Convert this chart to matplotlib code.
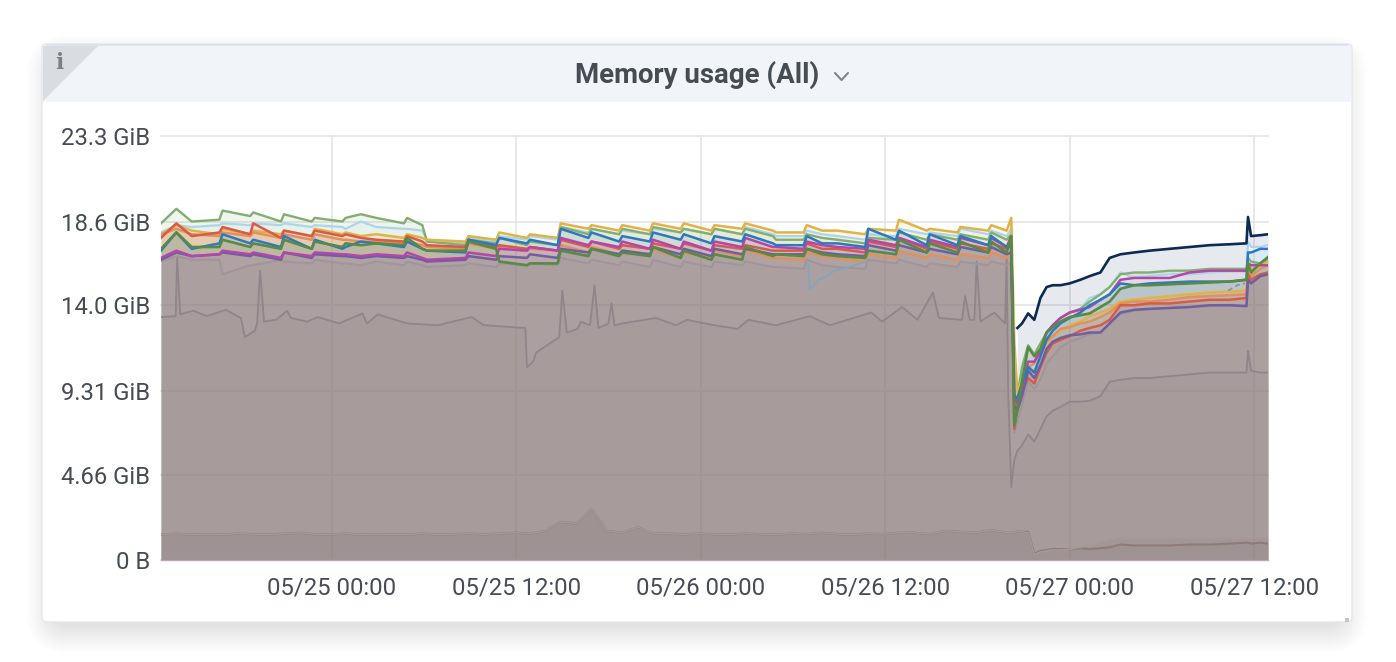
import matplotlib
matplotlib.use("Agg")
import matplotlib.pyplot as plt
import matplotlib.dates as mdates
from matplotlib.patches import FancyBboxPatch, Polygon, Rectangle
import numpy as np
import pandas as pd

# ---------- data (GiB, hours after the first sample) ----------
start_time = pd.Timestamp("2020-05-24 12:54")
hours_pre = [0, 1, 2, 3.8, 4, 5.8, 6, 7.8, 8, 9.8, 10, 11.8, 12, 13, 14, 15.8, 16, 17, 17.3, 19.8,
             20, 21.8, 22, 23.8, 24, 25.8, 26, 27.8, 28, 29.8, 30, 31.8, 32, 33.8, 34, 35.8, 36, 37.8, 38, 39.8,
             40, 41.8, 42, 43, 44, 45.8, 46, 47.8, 48, 49.8, 50, 51.8, 52, 53.8, 54, 55, 55.3, 55.5]
hours_post = [55.7, 56.0, 56.4, 56.8, 57.2, 57.6, 58.0, 58.5, 59.1, 59.8, 60.4, 61.1, 61.7,
              62.4, 63.3, 64.3, 65.6, 66.9, 68.2, 69.5, 70.6, 70.7, 70.9, 71.5, 72.0]
hours_bottom = [0, 1, 2, 3, 4, 5, 6, 7, 8, 9, 10, 11, 12, 13, 14, 15, 16, 17, 18, 19,
                20, 21, 22, 23, 24, 25, 26, 27, 28, 29, 30, 31, 32, 33, 34, 35, 36, 37, 38, 39,
                40, 41, 42, 43, 44, 45, 46, 47, 48, 49, 50, 51, 52, 53, 54, 55, 55.3, 55.5]

yellow_pre = [17.9,18.4,18.1,17.9,18.2,17.9,18.1,17.9,18.1,17.8,
              18.2,17.9,18.0,17.8,17.9,17.7,17.9,17.7,17.6,17.5,
              17.8,17.6,18.0,17.7,17.9,17.7,18.5,18.2,18.4,18.1,
              18.4,18.1,18.5,18.2,18.5,18.1,18.4,18.2,18.5,18.1,
              18.0,18.0,18.4,18.1,18.1,17.9,18.2,18.1,18.7,18.1,
              18.2,18.0,18.3,18.1,18.4,18.1,18.8,12.0]
yellow_post = [9.2,9.9,10.7,10.3,11.2,11.9,12.3,12.6,12.9,13.1,13.4,13.6,13.8,14.2,14.3,14.4,
               14.5,14.6,14.7,14.75,14.8,16.0,16.0,16.2,16.4]

ltgreen_pre = [18.5,19.3,18.6,18.7,19.2,18.9,19.1,18.6,19.0,18.6,
               18.8,18.6,18.8,19.0,18.8,18.5,18.8,18.4,17.5,17.3,
               17.6,17.4,17.7,17.3,17.5,17.3,18.3,17.9,18.2,17.9,
               18.2,17.9,18.3,18.0,18.2,17.9,18.2,17.9,18.2,17.8,
               17.6,17.6,17.9,17.7,17.6,17.4,17.7,17.6,18.0,17.6,
               17.9,17.6,17.9,17.6,18.0,17.6,17.9,8.0]
ltgreen_post = [9.0,10.6,11.8,11.3,11.9,12.5,12.9,13.3,13.6,13.8,14.2,14.6,15.0,15.7,15.8,15.8,
                15.9,15.9,16.0,16.0,16.0,16.6,16.4,16.3,16.5]

pale_pre = [18.0,18.4,18.3,18.4,18.5,18.4,18.5,18.4,18.5,18.3,
            18.4,18.3,18.2,18.6,18.3,18.2,18.2,18.1,17.6,17.4,
            17.7,17.5,17.8,17.6,17.8,17.6,18.3,18.0,18.2,17.9,
            18.1,17.9,18.2,18.0,18.2,17.9,18.2,17.9,18.3,17.9,
            17.8,17.8,18.1,17.9,17.8,17.6,17.9,17.8,18.2,17.9,
            18.0,17.8,18.2,17.9,18.1,17.8,18.2,10.0]
cyan_post = [9.4,10.1,10.9,10.6,11.4,12.2,12.7,13.2,13.6,13.8,14.4,14.6,15.0,15.8,15.5,15.6,
             15.7,15.7,15.8,15.85,15.85,17.5,17.2,17.2,17.3]

red_pre = [17.7,18.5,17.8,18.0,18.3,17.9,18.5,17.7,18.1,17.8,
           18.1,17.8,17.9,17.7,17.6,17.5,17.8,17.5,17.3,17.2,
           17.6,17.2,17.3,17.1,17.2,17.0,17.6,17.2,17.5,17.1,
           17.3,17.1,17.4,17.1,17.4,17.0,17.3,17.1,17.3,17.0,
           17.0,17.0,17.4,17.1,17.1,16.9,17.5,17.2,17.7,17.1,
           17.5,17.1,17.4,17.1,17.4,17.1,17.3,7.2]
red_post = [8.5,9.3,10.0,9.7,10.6,11.4,11.9,12.1,12.3,12.6,12.75,12.9,13.2,14.0,14.0,14.1,
            14.1,14.2,14.3,14.3,14.4,15.7,15.4,15.7,15.8]

orange_pre = [17.9,18.2,17.9,17.8,18.0,17.8,18.0,17.7,17.9,17.6,
              17.9,17.6,17.6,17.5,17.5,17.4,17.5,17.3,17.2,17.1,
              17.4,17.1,17.2,17.0,17.1,17.0,17.3,16.9,17.2,16.8,
              17.0,16.8,17.1,16.6,16.9,16.6,17.0,16.7,17.0,16.6,
              16.6,16.5,16.9,16.7,16.6,16.4,16.8,16.6,17.0,16.6,
              16.8,16.5,16.8,16.6,16.9,16.6,17.0,8.0]
orange_post = [8.8,9.7,10.6,10.8,11.4,12.0,12.3,12.7,12.8,13.0,13.1,13.35,13.6,14.1,14.2,14.2,
               14.3,14.45,14.5,14.55,14.6,15.8,15.6,16.0,16.2]

blue_pre = [17.0,18.0,17.1,17.4,17.9,17.4,17.6,17.2,17.8,17.1,
            17.6,17.1,17.2,17.5,17.4,17.2,17.5,17.1,17.0,16.9,
            17.6,17.3,17.7,17.4,17.6,17.3,18.2,17.7,18.0,17.5,
            17.8,17.5,18.0,17.6,17.9,17.4,17.8,17.5,17.9,17.4,
            17.3,17.3,17.8,17.4,17.4,17.2,18.2,17.6,18.1,17.3,
            17.9,17.3,17.8,17.3,17.8,17.2,17.2,9.0]
blue_post = [8.9,9.7,10.6,10.3,11.2,12.1,12.6,13.0,13.3,13.6,14.0,14.3,14.6,15.2,15.1,15.2,
             15.25,15.3,15.3,15.3,15.4,16.9,16.9,17.1,17.1]

purple_pre = [16.6,17.0,16.7,16.8,17.0,16.8,16.9,16.6,16.9,16.7,
              16.9,16.8,16.8,16.7,16.8,16.7,16.9,16.6,16.5,16.6,
              16.9,16.7,17.1,17.0,17.2,17.0,17.7,17.3,17.5,17.2,
              17.5,17.1,17.6,17.1,17.5,17.0,17.5,17.2,17.7,17.2,
              17.2,17.1,17.5,17.3,17.2,17.1,17.6,17.3,17.7,17.2,
              17.6,17.2,17.7,17.3,17.7,17.2,17.8,9.0]
purple_post = [8.6,9.5,10.9,10.9,11.5,12.5,12.9,13.3,13.6,13.75,13.9,14.3,14.6,15.4,15.5,15.5,
               15.5,15.8,15.9,15.9,15.9,16.3,16.2,16.2,16.2]

violet_pre = [16.5,16.9,16.7,16.8,16.9,16.7,16.8,16.5,16.9,16.6,
              16.8,16.7,16.7,16.6,16.7,16.6,16.7,16.5,16.4,16.5,
              16.7,16.5,16.7,16.6,16.8,16.6,17.1,16.9,17.1,16.8,
              17.0,16.8,17.2,16.8,17.1,16.7,17.1,16.8,17.1,16.8,
              16.8,16.8,17.1,16.9,16.8,16.7,17.3,17.0,17.3,16.9,
              17.1,16.8,17.2,16.9,17.2,16.8,16.9,8.5]
violet_post = [8.2,9.0,10.4,10.0,10.7,11.6,12.0,12.2,12.35,12.4,12.5,12.5,13.0,13.6,13.75,13.8,
               13.85,13.9,14.0,14.0,13.95,15.4,15.2,15.6,15.7]

dkgreen_pre = [17.1,18.0,17.2,17.2,17.6,17.2,17.4,17.1,17.6,17.1,
               17.5,17.2,17.4,17.3,17.4,17.3,17.7,17.1,17.0,17.0,
               17.5,17.1,16.4,16.2,16.3,16.3,17.0,16.7,17.1,16.7,
               16.9,16.7,17.2,16.6,17.0,16.5,16.8,16.5,17.2,16.7,
               16.8,16.7,17.1,16.8,16.7,16.6,17.0,16.8,17.6,16.9,
               17.4,16.9,17.5,16.9,17.5,16.9,17.8,7.4]
dkgreen_post = [8.2,9.8,11.7,11.2,11.6,12.5,12.8,13.1,13.35,13.45,13.55,13.9,14.2,14.9,15.1,15.1,
                15.15,15.2,15.25,15.3,15.4,16.3,15.8,16.3,16.65]

greybrown_pre = [16.4,16.7,16.5,16.5,15.7,16.2,16.2,16.5,16.4,16.3,
                 16.5,16.3,16.3,16.2,16.4,16.2,16.4,16.2,16.1,16.2,
                 16.3,16.1,16.3,16.2,16.3,16.2,16.6,16.3,16.5,16.2,
                 16.4,16.1,16.5,16.1,16.4,16.1,16.4,16.2,16.4,16.1,
                 16.1,16.0,16.5,16.2,16.1,16.0,16.5,16.3,16.5,16.1,
                 16.3,16.1,16.4,16.2,16.4,16.2,16.4,7.0]
greybrown_post = [7.6,8.5,9.8,9.4,9.9,10.8,11.2,11.7,12.0,12.2,12.4,12.5,13.0,13.5,13.7,13.8,
                  13.85,13.9,13.95,14.0,14.0,15.5,15.3,15.6,15.7]

gray_hours = [0, 0.95, 1.05, 1.25, 2.1, 3, 4.2, 5.2, 5.45, 6.1, 6.25, 6.45, 6.7, 7.5, 8.2, 8.45,
              9.5, 10.2, 11.6, 13.1, 13.4, 14.1, 16, 18, 20.2, 21, 23.7, 23.8, 24.2, 24.4, 25.9,
              26.1, 26.4, 27.1, 27.3, 27.9, 28.2, 28.45, 29.1, 29.3, 29.5, 30, 32.2, 33.5, 34.2,
              36, 37.5, 38.2, 40, 42.2, 43.5, 46.2, 46.9, 48.2, 49.2, 50.2, 50.6, 52.1, 52.3,
              52.6, 52.9, 53.05, 53.3, 54.2, 54.9, 55.0, 55.1, 55.3, 55.5]
gray_pre = [13.35, 13.4, 16.6, 13.5, 13.7, 13.4, 13.75, 13.3, 12.25, 12.6, 13.0, 15.9, 13.1, 13.2,
            13.7, 13.3, 13.1, 13.35, 13.0, 13.55, 13.0, 13.5, 13.0, 12.9, 13.35, 12.9, 12.75, 10.6,
            10.9, 11.4, 12.25, 14.8, 12.5, 12.7, 13.1, 12.9, 15.1, 12.75, 13.0, 14.1, 12.9, 13.0,
            13.3, 12.9, 13.2, 12.9, 12.7, 13.2, 12.9, 13.4, 12.9, 13.6, 13.1, 13.9, 13.2, 14.7,
            13.3, 13.2, 14.5, 13.2, 13.2, 16.4, 13.1, 13.6, 13.0, 16.6, 9.3, 4.0, 5.5]
gray_post = [6.0,6.3,6.9,6.5,7.2,7.9,8.2,8.4,8.7,8.7,8.75,9.0,9.8,9.9,10.0,10.0,
             10.1,10.2,10.3,10.3,10.3,11.5,10.4,10.3,10.3]

bottom_pre = [1.4,1.45,1.4,1.42,1.4,1.45,1.42,1.4,1.45,1.5,
              1.42,1.4,1.45,1.4,1.42,1.4,1.4,1.45,1.4,1.42,
              1.45,1.4,1.45,1.5,1.45,1.6,2.1,2.0,2.8,1.6,
              1.5,1.8,1.45,1.45,1.4,1.45,1.42,1.4,1.45,1.42,
              1.4,1.45,1.42,1.5,1.42,1.4,1.45,1.42,1.5,1.5,
              1.42,1.6,1.55,1.5,1.65,1.5,1.5,1.5]
bottom_post = [1.6,1.55,1.55,0.35,0.5,0.55,0.6,0.6,0.6,0.65,0.6,0.65,0.7,0.85,0.8,0.8,
               0.8,0.85,0.85,0.9,0.95,0.95,0.9,0.95,0.9]
bottom2_post = [1.6,1.55,1.5,0.3,0.45,0.5,0.55,0.55,0.6,0.7,0.8,0.95,1.1,1.2,1.15,1.15,
                1.2,1.2,1.2,1.2,1.2,1.2,1.2,1.2,1.2]

navy_post = [12.75,13.0,13.55,13.2,14.4,15.0,15.1,15.1,15.2,15.4,15.6,15.8,16.6,16.8,16.9,17.0,
             17.1,17.2,17.3,17.35,17.4,18.85,17.8,17.85,17.9]

teal_hours = [42.1, 42.2, 42.8, 43.3, 43.8, 44.4, 45.1, 45.9]
teal_values = [16.3, 14.85, 15.4, 15.6, 15.9, 16.0, 16.2, 16.4]
dash_hours = [69.4, 69.6, 70.0, 70.5]
dash_values = [14.8, 14.9, 15.1, 15.2]

ytick_values = [0, 4.66, 9.31, 14.0, 18.6, 23.3]
ytick_labels = ["0 B", "4.66 GiB", "9.31 GiB", "14.0 GiB", "18.6 GiB", "23.3 GiB"]
title_text = "Memory usage (All)"

FONT = "Roboto"
TEXT = "#464c54"
W, H = 1396, 662

fig = plt.figure(figsize=(W / 100, H / 100), dpi=100, facecolor="white")

# ---------- panel chrome, in pixel coordinates ----------
bg = fig.add_axes([0, 0, 1, 1])
bg.set_xlim(0, W)
bg.set_ylim(H, 0)
bg.axis("off")
for grow in range(1, 38):
    x0, x1 = 42 + 22 - grow, 1352 - 22 + grow
    y0, y1 = 44 + 28 - grow, 622 - 6 + grow
    bg.add_patch(FancyBboxPatch((x0, y0), x1 - x0, y1 - y0,
                                boxstyle="round,pad=0,rounding_size=%d" % (grow + 3),
                                fc="black", ec="none", alpha=0.0035))
bg.add_patch(FancyBboxPatch((42, 44), 1310, 578, boxstyle="round,pad=0,rounding_size=5",
                            fc="white", ec="#e4e6ea", lw=1.0))
bg.add_patch(FancyBboxPatch((43, 45), 1308, 57, boxstyle="round,pad=0,rounding_size=4",
                            fc="#f1f4f9", ec="none"))
bg.add_patch(Rectangle((43, 90), 1308, 12, fc="#f1f4f9", ec="none"))
bg.add_patch(Rectangle((46, 44), 1302, 1.6, fc="#dfe2ea", ec="none"))
bg.add_patch(Polygon([(43, 46), (98, 46), (43, 101)], closed=True, fc="#d9dde2", ec="none"))
bg.add_patch(Rectangle((1345, 618), 4, 4, fc="#c4c6ca", ec="none"))
bg.text(59, 63, "i", family="DejaVu Serif", weight="bold", fontsize=15.5, color="#7b8087",
        ha="center", va="center")
bg.text(697, 75, title_text, family=FONT, weight="bold", fontsize=19.9, color=TEXT,
        ha="center", va="center")
bg.plot([835, 841.5, 848], [73, 80, 73], color="#80858b", lw=1.5, solid_capstyle="round")

# ---------- plot area ----------
ax = fig.add_axes([161 / W, 1 - 560 / H, (1268 - 161) / W, (560 - 136) / H])
ax.patch.set_alpha(0)


def to_time(hours):
    return start_time + pd.to_timedelta(np.asarray(hours, dtype=float), unit="h")


times_all = to_time(hours_pre + hours_post)
times_bottom = to_time(hours_bottom + hours_post)
times_gray = to_time(gray_hours + hours_post)

# fill colour, line colour, line width, times, values
series = [
    ("#8f8a94", "#90858b", 1.3, times_gray, gray_pre + gray_post),
    ("#75655f", "#8d7b78", 1.5, times_bottom, bottom_pre + bottom_post),
    ("#75655f", "#a59a98", 1.1, times_bottom, bottom_pre + bottom2_post),
    ("#b0aab8", "#a0959c", 1.5, times_all, greybrown_pre + greybrown_post),
    ("#b5dce8", "#a9d6ea", 1.6, times_all, pale_pre + cyan_post),
    ("#7eb26d", "#82ae72", 1.7, times_all, ltgreen_pre + ltgreen_post),
    ("#eab839", "#e2b24a", 1.8, times_all, yellow_pre + yellow_post),
    ("#ef843c", "#e0915e", 1.8, times_all, orange_pre + orange_post),
    ("#e24d42", "#d85a48", 1.8, times_all, red_pre + red_post),
    ("#705da0", "#6f5ea0", 1.8, times_all, violet_pre + violet_post),
    ("#ba43a9", "#b545a8", 1.8, times_all, purple_pre + purple_post),
    ("#1f78c1", "#2d78bf", 1.8, times_all, blue_pre + blue_post),
    ("#508642", "#568a45", 1.9, times_all, dkgreen_pre + dkgreen_post),
]

for fill_color, line_color, width, xs, values in series:
    ax.fill_between(xs, 0, values, color=fill_color, alpha=0.12, lw=0, zorder=2)
navy_times = to_time(hours_post)
ax.fill_between(navy_times, cyan_post, navy_post, color="#0a2f5c", alpha=0.1, lw=0, zorder=2)

for fill_color, line_color, width, xs, values in series:
    ax.plot(xs, values, color=line_color, lw=width, zorder=3)
ax.plot(navy_times, navy_post, color="#0d2a54", lw=1.9, zorder=3)

ax.plot(to_time(teal_hours), teal_values, color="#7fa8bb", lw=1.4, zorder=3)
ax.plot(to_time(dash_hours), dash_values, color="#8f8f9c", lw=1.2, ls=(0, (3, 2)), zorder=3)

ax.set_xlim(to_time([0])[0], to_time([72])[0])
ax.set_ylim(0, 23.3)
ax.set_yticks(ytick_values)
ax.set_yticklabels(ytick_labels)
ax.xaxis.set_major_locator(mdates.HourLocator(byhour=[0, 12]))
ax.xaxis.set_major_formatter(mdates.DateFormatter("%m/%d %H:%M"))
ax.grid(True, color="#e4e4e4", lw=1.2, zorder=1)
for line in ax.get_xgridlines() + ax.get_ygridlines():
    line.set_clip_on(False)
ax.set_axisbelow(True)
ax.tick_params(length=0, labelsize=17.2, labelcolor=TEXT)
ax.tick_params(axis="x", pad=12)
ax.tick_params(axis="y", pad=8)
for label in ax.get_xticklabels() + ax.get_yticklabels():
    label.set_family(FONT)
for label in ax.get_yticklabels():
    label.set_va("center_baseline")
for side in ("top", "left", "right"):
    ax.spines[side].set_visible(False)
ax.spines["bottom"].set_color("#b9a4c8")
ax.spines["bottom"].set_linewidth(1.0)

fig.savefig("out.png", dpi=100)
